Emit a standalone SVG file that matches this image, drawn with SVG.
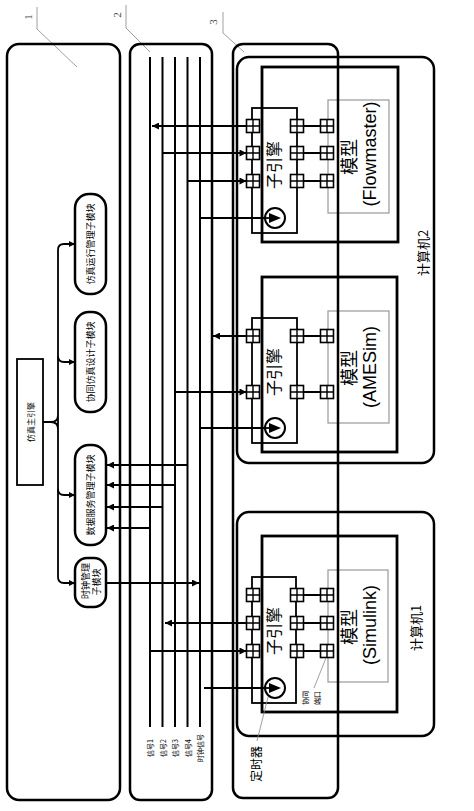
<svg xmlns="http://www.w3.org/2000/svg" width="474" height="811" viewBox="0 0 474 811">
<defs>
<style>
.box{fill:none;stroke:#000;stroke-width:2.5}
.mbox{fill:none;stroke:#000;stroke-width:2.8}
.sub{fill:none;stroke:#000;stroke-width:1.8}
.gray{fill:none;stroke:#999;stroke-width:1.2}
.lead{fill:none;stroke:#888;stroke-width:0.8}
.sig{stroke:#000;stroke-width:2;fill:none}
.con{stroke:#000;stroke-width:1.8;fill:none}
.cjk{font-family:"Noto Sans CJK SC",sans-serif;fill:#000}
.lat{font-family:"Liberation Sans","Noto Sans CJK SC",sans-serif;fill:#000}
.ser{font-family:"Liberation Serif",serif;fill:#444}
</style>
<marker id="ah" viewBox="0 0 10 10" refX="10" refY="5" markerWidth="9" markerHeight="7" markerUnits="userSpaceOnUse" orient="auto"><path d="M0,0 L10,5 L0,10 z" fill="#000"/></marker>
<marker id="ahs" viewBox="0 0 10 10" refX="10" refY="5" markerWidth="7" markerHeight="6" markerUnits="userSpaceOnUse" orient="auto"><path d="M0,0 L10,5 L0,10 z" fill="#000"/></marker>
<g id="port"><rect x="-6.5" y="-6.5" width="13" height="13" fill="#fff" stroke="#000" stroke-width="1.6"/><path d="M0,-6.5V6.5M-6.5,0H6.5" stroke="#000" stroke-width="1.4"/></g>
<g id="timer"><circle r="10" fill="#fff" stroke="#000" stroke-width="2"/><path d="M-10,0H-5" stroke="#000" stroke-width="1.8"/><path d="M-6,-5 L6,0 L-6,5 z" fill="#000"/></g>
</defs>
<rect width="474" height="811" fill="#fff"/>

<!-- reference labels -->
<g id="labels">
<path class="lead" d="M37,7V29L77,67"/>
<text class="ser" font-size="11" text-anchor="middle" dominant-baseline="central" transform="translate(28,17) rotate(-90)">1</text>
<path class="lead" d="M126,5V28L150,52"/>
<text class="ser" font-size="11" text-anchor="middle" dominant-baseline="central" transform="translate(117,15) rotate(-90)">2</text>
<path class="lead" d="M223,12V33L244,52"/>
<text class="ser" font-size="11" text-anchor="middle" dominant-baseline="central" transform="translate(213,22) rotate(-90)">3</text>
</g>

<!-- Box 1: main engine -->
<g id="platform">
<rect class="box" x="7" y="44" width="113" height="756" rx="12"/>
</g>
<g id="main-engine">
<rect class="sub" x="17" y="359" width="26" height="126"/>
<text class="cjk" font-size="8" text-anchor="middle" dominant-baseline="central" transform="translate(30,422) rotate(-90)">仿真主引擎</text>
</g>
<g id="run-mgmt">
<rect class="box" x="75" y="194" width="31" height="100" rx="14"/>
<text class="cjk" font-size="9" text-anchor="middle" dominant-baseline="central" transform="translate(90.5,244) rotate(-90)">仿真运行管理子模块</text>
</g>
<g id="design">
<rect class="box" x="75" y="312" width="31" height="100" rx="14"/>
<text class="cjk" font-size="9" text-anchor="middle" dominant-baseline="central" transform="translate(90.5,362) rotate(-90)">协同仿真设计子模块</text>
</g>
<g id="data-service">
<rect class="box" x="75" y="445" width="31" height="100" rx="14"/>
<text class="cjk" font-size="9" text-anchor="middle" dominant-baseline="central" transform="translate(90.5,495) rotate(-90)">数据服务管理子模块</text>
</g>
<g id="clock-mgmt">
<rect class="box" x="75" y="558" width="31" height="49" rx="12"/>
<text class="cjk" font-size="9" text-anchor="middle" dominant-baseline="central" transform="translate(85.5,581) rotate(-90)">时钟管理</text>
<text class="cjk" font-size="9" text-anchor="middle" dominant-baseline="central" transform="translate(96.5,582) rotate(-90)">子模块</text>
</g>

<!-- Box 2: bus -->
<g id="bus">
<rect class="box" x="130" y="44" width="82" height="756" rx="10"/>
<path class="sig" d="M150,57V727M162.5,57V727M175,57V727M187.5,57V727M200,57V727"/>
<text class="cjk" font-size="7" text-anchor="middle" dominant-baseline="central" transform="translate(150,748) rotate(-90)">信号1</text>
<text class="cjk" font-size="7" text-anchor="middle" dominant-baseline="central" transform="translate(162.5,748) rotate(-90)">信号2</text>
<text class="cjk" font-size="7" text-anchor="middle" dominant-baseline="central" transform="translate(175,748) rotate(-90)">信号3</text>
<text class="cjk" font-size="7" text-anchor="middle" dominant-baseline="central" transform="translate(187.5,748) rotate(-90)">信号4</text>
<text class="cjk" font-size="7" text-anchor="middle" dominant-baseline="central" transform="translate(200,748) rotate(-90)">时钟信号</text>
</g>

<!-- Computer 2 -->
<g id="computer2">
<rect class="box" x="237" y="57" width="197" height="406" rx="12"/>
<text class="cjk" font-size="13" text-anchor="middle" dominant-baseline="central" transform="translate(422,253) rotate(-90)">计算机2</text>
</g>
<g id="flowmaster">
<rect class="mbox" x="262" y="67" width="136" height="175"/>
<rect class="gray" x="328" y="100" width="61" height="113"/>
<text class="cjk" font-size="18" text-anchor="middle" dominant-baseline="central" transform="translate(348,157) rotate(-90)">模型</text>
<text class="lat" font-size="18" text-anchor="middle" dominant-baseline="central" transform="translate(370,154) rotate(-90)">(Flowmaster)</text>
<rect class="sub" x="252" y="108" width="45" height="125"/>
<text class="cjk" font-size="16" text-anchor="middle" dominant-baseline="central" transform="translate(273,165) rotate(-90)">子引擎</text>
</g>
<g id="amesim">
<rect class="mbox" x="262" y="277" width="135" height="175"/>
<rect class="gray" x="328" y="311" width="61" height="112"/>
<text class="cjk" font-size="18" text-anchor="middle" dominant-baseline="central" transform="translate(348,368) rotate(-90)">模型</text>
<text class="lat" font-size="18" text-anchor="middle" dominant-baseline="central" transform="translate(370,367) rotate(-90)">(AMESim)</text>
<rect class="sub" x="252" y="318" width="45" height="125"/>
<text class="cjk" font-size="16" text-anchor="middle" dominant-baseline="central" transform="translate(273,372) rotate(-90)">子引擎</text>
</g>

<!-- Computer 1 -->
<g id="computer1">
<rect class="box" x="237" y="512" width="197" height="224" rx="12"/>
<text class="cjk" font-size="13" text-anchor="middle" dominant-baseline="central" transform="translate(415,628) rotate(-90)">计算机1</text>
</g>
<g id="simulink">
<rect class="mbox" x="262" y="536" width="135" height="176"/>
<rect class="gray" x="328" y="570" width="60" height="112"/>
<text class="cjk" font-size="18" text-anchor="middle" dominant-baseline="central" transform="translate(348,627) rotate(-90)">模型</text>
<text class="lat" font-size="18" text-anchor="middle" dominant-baseline="central" transform="translate(370,625) rotate(-90)">(Simulink)</text>
<rect class="sub" x="252" y="577" width="44" height="126"/>
<text class="cjk" font-size="16" text-anchor="middle" dominant-baseline="central" transform="translate(273,631) rotate(-90)">子引擎</text>
</g>

<!-- Box 3 -->
<g id="nodes-box">
<rect class="box" x="233" y="44" width="105" height="754" rx="10"/>
</g>

<!-- connectors -->
<g id="connectors">
<!-- brace from main engine -->
<path class="con" d="M58,250V577M43,422H51Q58,422 58,415M51,422Q58,422 58,429"/>
<path class="con" marker-end="url(#ahs)" d="M58,250Q58,244 64,244H75"/>
<path class="con" marker-end="url(#ahs)" d="M58,356Q58,362 64,362H75"/>
<path class="con" marker-end="url(#ahs)" d="M58,489Q58,495 64,495H75"/>
<path class="con" marker-end="url(#ahs)" d="M58,577Q58,583 64,583H75"/>
<!-- bus to data service -->
<path class="con" marker-end="url(#ah)" d="M187.5,465H107"/>
<path class="con" marker-end="url(#ah)" d="M175,485H107"/>
<path class="con" marker-end="url(#ah)" d="M162.5,507H107"/>
<path class="con" marker-end="url(#ah)" d="M150,528H107"/>
<!-- clock mgmt to clock signal -->
<path class="con" marker-end="url(#ah)" d="M106,583H199"/>
<!-- Flowmaster -->
<path class="con" marker-end="url(#ah)" d="M247,126H152"/>
<path class="con" marker-end="url(#ah)" d="M162.5,153H246.5"/>
<path class="con" marker-end="url(#ah)" d="M187.5,181H246.5"/>
<path class="con" d="M200,218H266"/>
<path class="con" d="M297,126H327M297,153H327M297,181H327"/>
<!-- AMESim -->
<path class="con" marker-end="url(#ah)" d="M247,336H213"/>
<path class="con" marker-end="url(#ah)" d="M175,392H246.5"/>
<path class="con" d="M200,428H266"/>
<path class="con" d="M297,336H327M297,392H327"/>
<!-- Simulink -->
<path class="con" marker-end="url(#ah)" d="M247,623H165"/>
<path class="con" marker-end="url(#ah)" d="M150,651H246.5"/>
<path class="con" d="M204,688H266"/>
<path class="con" d="M297,595H327M297,623H327M297,651H327"/>
</g>

<!-- ports and timers -->
<g id="ports">
<use href="#port" x="253" y="126"/><use href="#port" x="297" y="126"/><use href="#port" x="327" y="126"/>
<use href="#port" x="253" y="153"/><use href="#port" x="297" y="153"/><use href="#port" x="327" y="153"/>
<use href="#port" x="253" y="181"/><use href="#port" x="297" y="181"/><use href="#port" x="327" y="181"/>
<use href="#port" x="253" y="336"/><use href="#port" x="297" y="336"/><use href="#port" x="327" y="336"/>
<use href="#port" x="253" y="392"/><use href="#port" x="297" y="392"/><use href="#port" x="327" y="392"/>
<use href="#port" x="253" y="595"/><use href="#port" x="297" y="595"/><use href="#port" x="327" y="595"/>
<use href="#port" x="253" y="623"/><use href="#port" x="297" y="623"/><use href="#port" x="327" y="623"/>
<use href="#port" x="253" y="651"/><use href="#port" x="297" y="651"/><use href="#port" x="327" y="651"/>
</g>
<g id="timers">
<use href="#timer" x="275" y="218"/>
<use href="#timer" x="275" y="428"/>
<use href="#timer" x="275" y="688"/>
</g>

<!-- annotations -->
<g id="annotations">
<path class="lead" d="M268,697L257,741"/>
<text class="cjk" font-size="12" text-anchor="middle" dominant-baseline="central" transform="translate(255,764) rotate(-90)">定时器</text>
<path class="lead" d="M326,658L314,688"/>
<text class="cjk" font-size="7" text-anchor="middle" dominant-baseline="central" transform="translate(305,698) rotate(-90)">协同</text>
<text class="cjk" font-size="7" text-anchor="middle" dominant-baseline="central" transform="translate(317,698) rotate(-90)">端口</text>
</g>
</svg>
